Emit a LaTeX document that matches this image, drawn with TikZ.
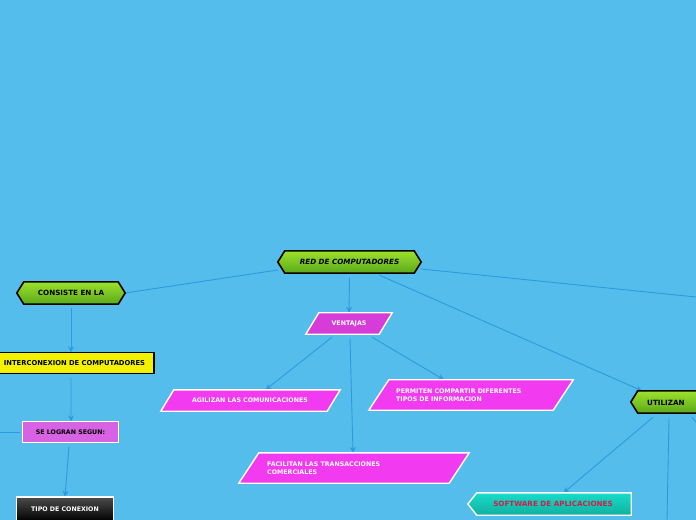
\documentclass[tikz,border=0pt]{standalone}
\usepackage{fontspec}
\setmainfont{DejaVu Sans}
\usetikzlibrary{arrows.meta}
\definecolor{bg}{HTML}{55BDEB}
\definecolor{ln}{HTML}{2A9BE0}
\definecolor{gtop}{HTML}{9DE22E}
\definecolor{gbot}{HTML}{5AA81A}
\definecolor{mag}{HTML}{F23AF0}
\definecolor{vent}{HTML}{D63CD8}
\definecolor{orch}{HTML}{D862E4}
\definecolor{yel}{HTML}{F2F200}
\definecolor{teal}{HTML}{16DCC8}
\definecolor{redt}{HTML}{D01E4A}
\tikzset{
  lbl/.style={inner sep=0pt, font=\bfseries\fontsize{6.8}{8}\selectfont, align=left},
  conn/.style={draw=ln, line width=0.9pt, -{Stealth[length=6pt,width=6pt]}},
  plain/.style={draw=ln, line width=0.9pt},
  hexg/.style={draw=black, line width=1.6pt, top color=gtop, bottom color=gbot},
  para/.style={draw=white, line width=1.4pt, fill=mag},
}
\newcommand{\hexshape}[3]{%
  \path[#2] (#1.west) -- ([xshift=#3]#1.north west) -- ([xshift=-#3]#1.north east) -- (#1.east) -- ([xshift=-#3]#1.south east) -- ([xshift=#3]#1.south west) -- cycle;}
\newcommand{\parashape}[3]{%
  \path[#2] (#1.south west) -- ([xshift=#3]#1.north west) -- (#1.north east) -- ([xshift=-#3]#1.south east) -- cycle;}
\begin{document}
\begin{tikzpicture}[x=1bp,y=-1bp]
\fill[bg] (0,0) rectangle (696,520);
\useasboundingbox (0,0) rectangle (696,520);
\node[minimum width=143bp,minimum height=22bp,inner sep=0] (red) at (349.5,262) {};
\node[minimum width=108bp,minimum height=22bp,inner sep=0] (con) at (71,293) {};
\node[minimum width=159bp,minimum height=21bp,inner sep=0] (int) at (74.5,363) {};
\node[minimum width=95bp,minimum height=21bp,inner sep=0] (se) at (70.5,432) {};
\node[minimum width=96bp,minimum height=24bp,inner sep=0] (tipo) at (65,509) {};
\node[minimum width=86bp,minimum height=21bp,inner sep=0] (ven) at (349,323.5) {};
\node[minimum width=179bp,minimum height=21bp,inner sep=0] (agi) at (250.5,400.5) {};
\node[minimum width=204bp,minimum height=30bp,inner sep=0] (per) at (471,395) {};
\node[minimum width=230bp,minimum height=30bp,inner sep=0] (fac) at (354,468) {};
\node[minimum width=80bp,minimum height=22bp,inner sep=0] (uti) at (671,402) {};
\node[minimum width=163bp,minimum height=22bp,inner sep=0] (sof) at (549.5,504) {};
\coordinate (rr) at (696,297);
\coordinate (sl) at (0,432);
\coordinate (ud) at (667,520);
\coordinate (ur) at (696,422);
\draw[plain] ([yshift=-8bp]red.west) -- (con.east);
\draw[plain] ([yshift=-7bp]red.east) -- (rr);
\draw[conn] ([yshift=-5bp]red.south) -- (ven.north);
\draw[conn] ([xshift=30bp,yshift=-2bp]red.south) -- ([xshift=-29bp]uti.north);
\draw[conn] ([yshift=-4bp]con.south) -- (int.north -| con.south);
\draw[conn] ([xshift=-3.5bp,yshift=-4bp]int.south) -- ([xshift=0.5bp]se.north);
\draw[conn] ([xshift=-1.5bp,yshift=-4bp]se.south) -- (tipo.north);
\draw[plain] (sl) -- ([xshift=-3bp]se.west);
\draw[conn] ([xshift=-17bp,yshift=-3bp]ven.south) -- ([xshift=15bp]agi.north);
\draw[conn] ([xshift=1bp,yshift=-4bp]ven.south) -- ([xshift=-1bp]fac.north);
\draw[conn] ([xshift=23bp,yshift=-3bp]ven.south) -- ([xshift=-27bp]per.north);
\draw[conn] ([xshift=-18bp,yshift=-4bp]uti.south) -- ([xshift=14bp]sof.north);
\draw[plain] ([xshift=-2bp,yshift=-5bp]uti.south) -- (ud);
\draw[plain] ([xshift=21bp,yshift=-4bp]uti.south) -- (ur);
\hexshape{red}{hexg}{7bp}
\node[lbl, font=\bfseries\itshape\fontsize{7.2}{8}\selectfont] at (red) {RED DE COMPUTADORES};
\hexshape{con}{hexg}{7bp}
\node[lbl, font=\bfseries\fontsize{7.2}{8}\selectfont] at (con) {CONSISTE EN LA};
\hexshape{uti}{hexg}{7bp}
\node[lbl, font=\bfseries\fontsize{7.2}{8}\selectfont, anchor=west] at (647,402.5) {UTILIZAN};
\path[draw=black, line width=1.6pt, fill=yel] (int.south west) rectangle (int.north east);
\node[lbl] at (int) {INTERCONEXION DE COMPUTADORES};
\path[draw=white, line width=1.4pt, fill=orch] (se.south west) rectangle (se.north east);
\node[lbl, font=\bfseries\fontsize{6.3}{7}\selectfont] at (se) {SE LOGRAN SEGUN:};
\path[draw=white, line width=1.4pt, top color=black!70, bottom color=black] (tipo.south west) rectangle (tipo.north east);
\node[lbl, text=white, font=\bfseries\fontsize{6.3}{7}\selectfont] at (65,509.5) {TIPO DE CONEXION};
\parashape{ven}{para, fill=vent}{13bp}
\node[lbl, text=white, font=\bfseries\fontsize{6.3}{7}\selectfont] at (ven) {VENTAJAS};
\parashape{agi}{para}{13bp}
\node[lbl, text=white, font=\bfseries\fontsize{6.3}{7}\selectfont] at (250,400.5) {AGILIZAN LAS COMUNICACIONES};
\parashape{per}{para}{20bp}
\node[lbl, text=white, font=\bfseries\fontsize{6.3}{8}\selectfont, anchor=west] at (396,395) {PERMITEN COMPARTIR DIFERENTES\\TIPOS DE INFORMACION};
\parashape{fac}{para}{20bp}
\node[lbl, text=white, font=\bfseries\fontsize{6.3}{8}\selectfont, anchor=west] at (267,468) {FACILITAN LAS TRANSACCIONES\\COMERCIALES};
\path[draw=white, line width=1.4pt, top color=teal, bottom color=teal!80!black] (sof.west) -- ([xshift=9bp]sof.north west) -- (sof.north east) -- (sof.south east) -- ([xshift=9bp]sof.south west) -- cycle;
\node[lbl, text=redt, font=\bfseries\fontsize{7.2}{8}\selectfont] at (553,504) {SOFTWARE DE APLICACIONES};
\end{tikzpicture}
\end{document}
